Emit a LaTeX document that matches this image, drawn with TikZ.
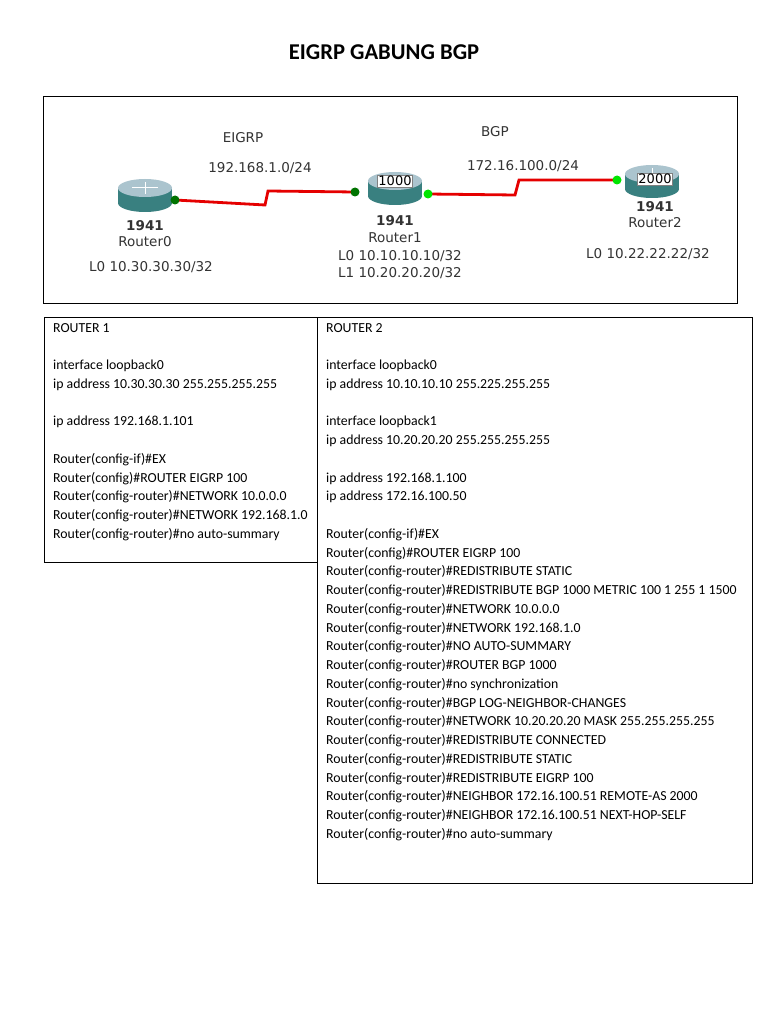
\documentclass[tikz,border=0pt]{standalone}
\usepackage{fontspec}
\setmainfont{Carlito}
\newfontfamily\dvs{DejaVu Sans}
\begin{document}
\begin{tikzpicture}[x=1pt,y=-1pt,
 box/.style={draw=black,line width=0.8pt},
 lbl/.style={font=\dvs\fontsize{13.5}{15}\selectfont,text=black!80,inner sep=0},
 code/.style={anchor=north west,align=left,inner sep=0,font=\fontsize{13.8}{18.75}\selectfont},
 link/.style={draw=red!90!black,line width=2.8pt},
 dotd/.style={circle,fill=green!45!black,minimum size=9pt,inner sep=0},
 dotl/.style={circle,fill=green!90!black,minimum size=9pt,inner sep=0},
 rtr/.style={inner sep=0,minimum width=54pt,minimum height=36pt}]
\useasboundingbox (0,0) rectangle (768,1024);
\fill[white] (0,0) rectangle (768,1024);
\node[font=\bfseries\fontsize{22.6}{26}\selectfont] (title) at (384,52) {EIGRP GABUNG BGP};
\draw[box] (43,96) rectangle (737,303);
\draw[box] (44,317) rectangle (317,562);
\draw[box] (317,317) rectangle (752,883);
% routers
\foreach \n/\x/\y in {r0/145/195,r1/395/188,r2/652/181}{
 \node[rtr] (\n) at (\x,\y) {};
 \fill[teal!55!gray] (\x-27,\y-7) rectangle (\x+27,\y+8);
 \fill[teal!55!gray] (\x,\y+8) ellipse[x radius=27,y radius=9];
 \fill[cyan!30!gray!60] (\x,\y-7) ellipse[x radius=27,y radius=9];
 \draw[white,line width=1pt] (\x-13,\y-7) -- (\x+13,\y-7) (\x,\y-13) -- (\x,\y-1);
}
\node[fill=white,draw=gray,inner sep=1pt,font=\dvs\fontsize{13}{14}\selectfont] (b1) at (395,181) {1000};
\node[fill=white,draw=gray,inner sep=1pt,font=\dvs\fontsize{13}{14}\selectfont] (b2) at (655,179) {2000};
% links
\coordinate (p1) at (175,200); \coordinate (p2) at (355,192);
\coordinate (p3) at (428,194); \coordinate (p4) at (617,180);
\draw[link] (p1) -- (265,205) -- (268,191) -- (p2);
\draw[link] (p3) -- (515,195) -- (519,180) -- (p4);
\node[dotd] (d1) at (p1) {}; \node[dotd] (d2) at (p2) {};
\node[dotl] (d3) at (p3) {}; \node[dotl] (d4) at (p4) {};
% labels
\node[lbl] (l1) at (243,138) {EIGRP};
\node[lbl] (l2) at (495,132) {BGP};
\node[lbl] (l3) at (260,168) {192.168.1.0/24};
\node[lbl] (l4) at (523,166) {172.16.100.0/24};
\node[lbl] (l5) at (145,226) {\textbf{1941}};
\node[lbl] (l6) at (145,242) {Router0};
\node[lbl] (l7) at (151,267) {L0 10.30.30.30/32};
\node[lbl] (l8) at (395,221) {\textbf{1941}};
\node[lbl] (l9) at (395,238) {Router1};
\node[lbl] (l10) at (400,256) {L0 10.10.10.10/32};
\node[lbl] (l11) at (400,273) {L1 10.20.20.20/32};
\node[lbl] (l12) at (655,207) {\textbf{1941}};
\node[lbl] (l13) at (655,223) {Router2};
\node[lbl] (l14) at (648,254) {L0 10.22.22.22/32};
% code
\node[code] (c1) at (53,323) {ROUTER 1\\[18.75pt]
interface loopback0\\
ip address 10.30.30.30 255.255.255.255\\[18.75pt]
ip address 192.168.1.101\\[18.75pt]
Router(config-if)\#EX\\
Router(config)\#ROUTER EIGRP 100\\
Router(config-router)\#NETWORK 10.0.0.0\\
Router(config-router)\#NETWORK 192.168.1.0\\
Router(config-router)\#no auto-summary};
\node[code] (c2) at (326,323) {ROUTER 2\\[18.75pt]
interface loopback0\\
ip address 10.10.10.10 255.225.255.255\\[18.75pt]
interface loopback1\\
ip address 10.20.20.20 255.255.255.255\\[18.75pt]
ip address 192.168.1.100\\
ip address 172.16.100.50\\[18.75pt]
Router(config-if)\#EX\\
Router(config)\#ROUTER EIGRP 100\\
Router(config-router)\#REDISTRIBUTE STATIC\\
Router(config-router)\#REDISTRIBUTE BGP 1000 METRIC 100 1 255 1 1500\\
Router(config-router)\#NETWORK 10.0.0.0\\
Router(config-router)\#NETWORK 192.168.1.0\\
Router(config-router)\#NO AUTO-SUMMARY\\
Router(config-router)\#ROUTER BGP 1000\\
Router(config-router)\#no synchronization\\
Router(config-router)\#BGP LOG-NEIGHBOR-CHANGES\\
Router(config-router)\#NETWORK 10.20.20.20 MASK 255.255.255.255\\
Router(config-router)\#REDISTRIBUTE CONNECTED\\
Router(config-router)\#REDISTRIBUTE STATIC\\
Router(config-router)\#REDISTRIBUTE EIGRP 100\\
Router(config-router)\#NEIGHBOR 172.16.100.51 REMOTE-AS 2000\\
Router(config-router)\#NEIGHBOR 172.16.100.51 NEXT-HOP-SELF\\
Router(config-router)\#no auto-summary};
\end{tikzpicture}
\end{document}
